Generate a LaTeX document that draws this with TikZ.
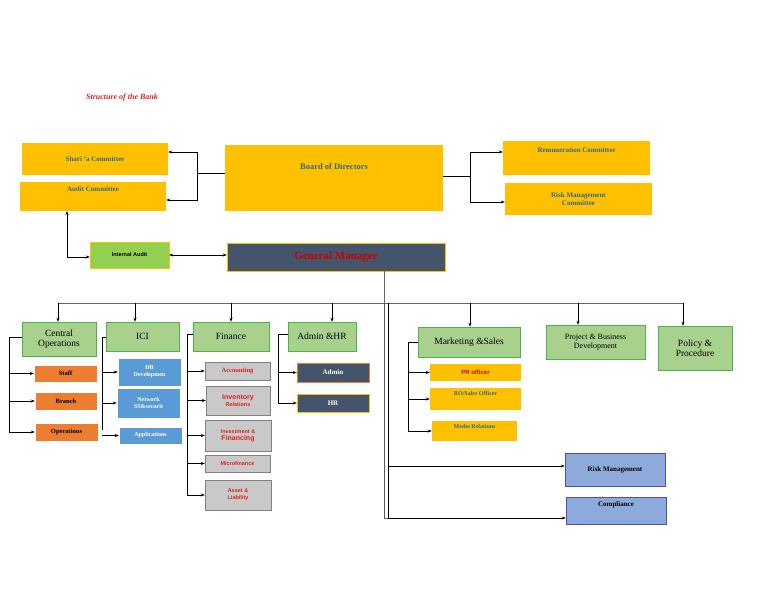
\documentclass[tikz,border=0pt]{standalone}
\usepackage{fontspec}
\setmainfont{Liberation Serif}
\setsansfont{Liberation Sans}
\usetikzlibrary{arrows.meta}
\definecolor{gold}{HTML}{FFC000}
\definecolor{tealtx}{HTML}{2E6A8E}
\definecolor{grn}{HTML}{A9D18E}
\definecolor{lgrn}{HTML}{92D050}
\definecolor{slate}{HTML}{44546A}
\definecolor{org}{HTML}{ED7D31}
\definecolor{blu}{HTML}{5B9BD5}
\definecolor{gry}{HTML}{C9C9C9}
\definecolor{lav}{HTML}{8EAADB}
\definecolor{redt}{HTML}{E02020}
\begin{document}
\begin{tikzpicture}[x=1pt,y=-1pt,
 bx/.style={draw=none,inner sep=0,align=center,font=\bfseries\fontsize{7}{8}\selectfont},
 gold/.style={bx,fill=gold,text=tealtx},
 grn/.style={bx,fill=grn,draw=green!40!gray,font=\fontsize{9.5}{10.5}\selectfont},
 org/.style={bx,fill=org,draw=white,text=black,font=\bfseries\fontsize{6.5}{7.5}\selectfont},
 blu/.style={bx,fill=blu,draw=white,text=white,font=\bfseries\fontsize{6}{7}\selectfont},
 gry/.style={bx,fill=gry,draw=gray,text=redt,font=\bfseries\sffamily\fontsize{5.5}{7}\selectfont},
 drk/.style={bx,fill=slate,draw=org,text=white,font=\bfseries\fontsize{7}{8}\selectfont},
 ylw/.style={bx,fill=gold,text=tealtx,font=\bfseries\fontsize{6}{7}\selectfont},
 lav/.style={bx,fill=lav,draw=blue!40!gray,text=black,font=\bfseries\fontsize{7}{8}\selectfont},
 ar/.style={-{Stealth[length=4pt]},black,line width=0.6pt},
 ln/.style={black,line width=0.6pt}]
\useasboundingbox (0,0) rectangle (768,594);
\node[font=\bfseries\itshape\fontsize{8}{9}\selectfont,text=redt] (title) at (122,98) {Structure of the Bank};
\newcommand\bxat[5]{\node[#1,minimum width=#4-#2,minimum height=#5-#3] at ({(#2+#4)/2},{(#3+#5)/2})}
\bxat{gold}{22}{143}{168}{175} (sha) {Shari 'a Committee};
\bxat{gold}{20}{182}{166}{211} (aud) {Audit Committee\\[6pt]};
\bxat{gold,font=\bfseries\fontsize{8.5}{10}\selectfont}{225}{145}{443}{211} (bod) {Board of Directors\\[12pt]};
\bxat{gold}{503}{141}{650}{175} (rem) {Remuneration Committee\\[8pt]};
\bxat{gold}{505}{183}{652}{215} (rmc) {Risk Management\\Committee};
\bxat{bx,fill=lgrn,draw=gold,text=black,font=\sffamily\bfseries\fontsize{5.5}{6}\selectfont}{90}{242}{169}{268} (ia) {Internal Audit};
\bxat{bx,fill=slate,draw=gold,text=red!80!black,font=\bfseries\fontsize{11}{12}\selectfont}{227}{243}{445}{271} (gm) {General Manager};
% second level
\bxat{grn}{22}{322}{96}{356} (co) {Central\\Operations};
\bxat{grn}{106}{322}{179}{351} (ici) {ICI};
\bxat{grn}{193}{322}{269}{351} (fin) {Finance};
\bxat{grn}{288}{322}{356}{351} (ahr) {Admin \&HR};
\bxat{grn}{418}{327}{520}{357} (mkt) {Marketing \&Sales};
\bxat{grn,font=\fontsize{8}{9}\selectfont}{546}{325}{645}{359} (pbd) {Project \& Business\\Development};
\bxat{grn}{658}{326}{732}{370} (pol) {Policy \&\\Procedure};
% children
\bxat{org}{34}{365}{97}{382} (staff) {Staff};
\bxat{org}{35}{392}{97}{410} (branch) {Branch};
\bxat{org}{35}{423}{98}{441} (ops) {Operations};
\bxat{blu}{118}{358}{181}{386} (db) {DB\\Developmen};
\bxat{blu}{117}{388}{180}{418} (net) {Network\\SS\&securit};
\bxat{blu}{119}{427}{182}{444} (app) {Applications};
\bxat{gry,font=\bfseries\fontsize{6.5}{7}\selectfont}{205}{362}{270}{380} (acc) {Accounting};
\bxat{gry}{206}{386}{270}{415} (inv) {{\fontsize{7}{8}\selectfont Inventory}\\Relations};
\bxat{gry}{205}{420}{271}{451} (invf) {Investment \&\\{\fontsize{7}{8}\selectfont Financing}};
\bxat{gry}{205}{455}{270}{472} (mf) {Microfinance};
\bxat{gry}{205}{480}{271}{510} (al) {Asset \&\\Liability};
\bxat{drk}{297}{363}{369}{382} (adm) {Admin};
\bxat{drk,draw=gold}{297}{394}{369}{412} (hr) {HR};
\bxat{ylw,text=red!80!black,font=\sffamily\bfseries\fontsize{6}{7}\selectfont}{430}{364}{521}{381} (pr) {PR officer};
\bxat{ylw}{430}{388}{521}{410} (ro) {RO/Sales Officer\\[4pt]};
\bxat{ylw}{432}{421}{517}{441} (med) {Media Relations\\[3pt]};
\bxat{lav}{565}{453}{665}{486} (risk) {Risk Management};
\bxat{lav}{566}{497}{666}{524} (comp) {Compliance\\[4pt]};
% top connectors
\draw[ln] (bod.west|-0,173) -- (197,173);
\draw[ar] (197,152) -- (sha.east|-0,152);
\draw[ar] (197,152) -- (197,200) -- (aud.east|-0,200);
\draw[ln] (bod.east|-0,176) -- (470,176);
\draw[ar] (470,152) -- (rem.west|-0,152);
\draw[ar] (470,152) -- (470,202) -- (rmc.west|-0,202);
\draw[ar] (67,257) -- (67,211);
\draw[ar] (67,257) -- (ia.west|-0,257);
\draw[{Stealth[length=4pt]}-{Stealth[length=4pt]},line width=0.6pt] (ia.east|-0,255) -- (gm.west|-0,255);
% bus
\draw[ln,gray!80!black] (384,271) -- (384,303);
\draw[ln,gray!80!black] (58,303) -- (683,303);
\foreach \x/\n in {58/co,135/ici,231/fin,332/ahr,470/mkt,578/pbd,683/pol}
  \draw[ar] (\x,303) -- (\x,0|-\n.north);
\draw[ln,gray!70!black] (384,303) -- (384,518) -- (388,518);
\draw[ar] (388,466) -- (risk.west|-0,466);
\draw[ar] (388,518) -- (comp.west|-0,518);
\draw[ln] (388,303) -- (388,518);
% brackets
\draw[ln] (co.west|-0,337) -- (9,337) -- (9,432);
\foreach \n in {staff,branch,ops} \draw[ar] (9,0|-\n) -- (\n.west);
\draw[ln] (ici.west|-0,337) -- (102,337) -- (102,430);
\foreach \n in {db,net,app} \draw[ar] (102,0|-\n) -- (\n.west);
\draw[ln] (fin.west|-0,334) -- (187,334) -- (187,496);
\foreach \n in {acc,inv,invf,mf,al} \draw[ar] (187,0|-\n) -- (\n.west);
\draw[ln] (ahr.west|-0,334) -- (278,334) -- (278,403);
\foreach \n in {adm,hr} \draw[ar] (278,0|-\n) -- (\n.west);
\draw[ln] (mkt.west|-0,342) -- (408,342) -- (408,431);
\foreach \n in {pr,ro,med} \draw[ar] (408,0|-\n) -- (\n.west);
\end{tikzpicture}
\end{document}
